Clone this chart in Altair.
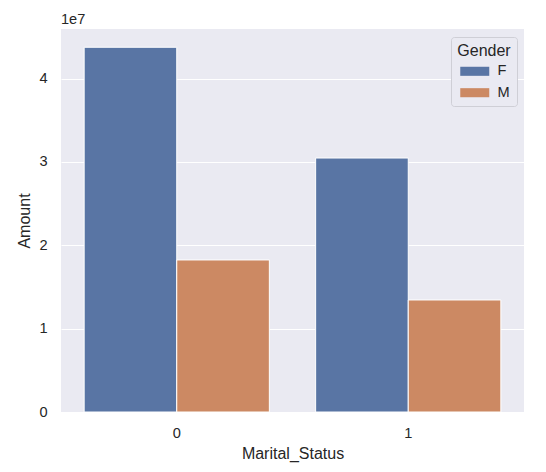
import altair as alt
import pandas as pd

statuses = ['0', '1']
genders = ['F', 'M']
amount_f = [43760000, 30470000]
amount_m = [18240000, 13440000]
y_ticks = [0, 10000000, 20000000, 30000000, 40000000]

rows = []
for i, s in enumerate(statuses):
    rows.append({'Marital_Status': s, 'Gender': 'F', 'Amount': amount_f[i]})
    rows.append({'Marital_Status': s, 'Gender': 'M', 'Amount': amount_m[i]})
source = pd.DataFrame(rows)

font = 'Liberation Sans'
ink = '#262626'

bars = alt.Chart(source).mark_bar(
    stroke='white',
    strokeWidth=1
).encode(
    x=alt.X('Marital_Status:N',
            title='Marital_Status',
            scale=alt.Scale(paddingInner=0.2, paddingOuter=0.1),
            axis=alt.Axis(labelAngle=0, labelPadding=13.5, titlePadding=5,
                          grid=False)),
    xOffset=alt.XOffset('Gender:N', sort=genders),
    y=alt.Y('Amount:Q',
            title='Amount',
            scale=alt.Scale(domain=[0, 45950000], nice=False),
            axis=alt.Axis(values=y_ticks, labelExpr='datum.value / 1e7',
                          labelPadding=14, titlePadding=6)),
    color=alt.Color('Gender:N',
                    sort=genders,
                    scale=alt.Scale(domain=genders, range=['#5975A4', '#CC8963']),
                    legend=alt.Legend(
                        orient='none', legendX=390, legendY=8,
                        symbolType='M-1,-0.75H3.8V0.75H-1Z',
                        symbolSize=146, symbolStrokeWidth=0,
                        labelOffset=24, rowPadding=6.4,
                        titleAnchor='middle', titlePadding=5,
                        padding=6, fillColor='#EAEAF2',
                        strokeColor='#cfcfd6', cornerRadius=3,
                    ))
).properties(
    width=463,
    height=383,
    title=alt.Title('1e7', anchor='start', frame='group', fontSize=14.6,
                    fontWeight='normal', font=font, color=ink, offset=2),
    autosize=alt.AutoSizeParams(type='none'),
    padding={'left': 53, 'top': 21, 'right': 14, 'bottom': 52},
)

chart = bars.configure_view(
    fill='#EAEAF2',
    stroke=None
).configure_axis(
    domain=False,
    ticks=False,
    grid=True,
    gridColor='white',
    gridWidth=1,
    labelFont=font,
    labelFontSize=14.6,
    labelColor=ink,
    titleFont=font,
    titleFontSize=16,
    titleFontWeight='normal',
    titleColor=ink,
).configure_legend(
    labelFont=font,
    labelFontSize=14.6,
    labelColor=ink,
    titleFont=font,
    titleFontSize=16,
    titleFontWeight='normal',
    titleColor=ink,
)

chart.save('out.html', embed_options={'renderer': 'svg', 'actions': False})
